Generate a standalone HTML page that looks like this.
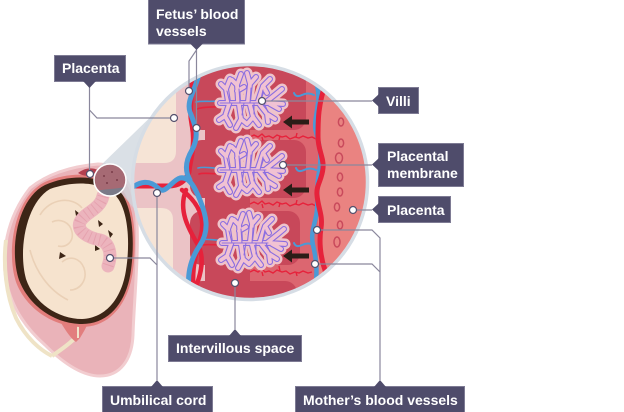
<!DOCTYPE html>
<html><head><meta charset="utf-8"><style>
html,body{margin:0;padding:0;background:#fff;}
svg{display:block;}
text{font-family:"Liberation Sans",Arial,sans-serif;font-weight:bold;font-size:14px;fill:#fff;}
</style></head><body>
<svg width="624" height="412" viewBox="0 0 624 412" xmlns="http://www.w3.org/2000/svg">
<defs>
<clipPath id="cc"><circle cx="250" cy="182" r="116"/></clipPath>
<clipPath id="sc"><circle cx="110" cy="180" r="16"/></clipPath>
<path id="vp" d="M0,0 H48 M8,-1 L6,-14 L10,-24 M6,-14 L1,-19 M18,-2 L17,-18 L21,-29 M17,-18 L12,-23 M17,-12 L24,-16 M28,-2 L30,-19 L27,-30 M30,-19 L36,-26 M38,-2 L43,-17 L50,-24 M43,-17 L47,-10 M46,-1 L56,-9 L62,-14 M48,0 L63,1 M9,1 L5,13 L10,22 M5,13 L-1,17 M19,2 L21,16 L16,25 M21,16 L27,21 M30,2 L33,14 L39,22 M33,14 L28,20 M40,2 L47,11 L55,16 M47,11 L48,19 M50,1 L59,6"/>
<g id="vil" fill="none" stroke-linecap="round" stroke-linejoin="round">
<use href="#vp" stroke="#efc3ca" stroke-width="11"/>
<use href="#vp" stroke="#8a6de0" stroke-width="6"/>
<use href="#vp" stroke="#f1c2d3" stroke-width="3.8"/>
<path d="M0,0 H46 M10,0 L7,-12 M20,0 L19,-14 M30,0 L31,-15 M40,0 L43,-13 M12,0 L8,11 M24,0 L22,12 M34,0 L34,11 M44,0 L48,9" stroke="#8a6de0" stroke-width="1"/>
</g>
</defs>

<!-- Uterus / fetus -->
<path d="M30,188 C50,172 75,166 98,164 C118,164 132,180 136,210 C140,245 134,300 133,335 C132,360 120,376 100,376 C80,376 60,360 45,345 C28,330 12,310 6,280 C2,255 5,220 30,188 Z" fill="#eab3b9" stroke="#f2cdd0" stroke-width="3"/>
<path d="M6,240 C3,265 6,295 16,318 C26,338 40,350 52,356" fill="none" stroke="#efe3c6" stroke-width="4"/>
<path d="M52,356 C62,349 72,342 79,334" fill="none" stroke="#efe3c6" stroke-width="4"/>
<path d="M58,318 C64,328 70,338 76,342 L80,338 C84,331 88,326 89,316 Z" fill="#e27e7e"/>
<path d="M78,320 L78,338" stroke="#f1e4ca" stroke-width="2"/>
<path d="M45,182 C70,171 101,172 120,187 C135,203 137,240 133,270 C129,302 111,327 82,327 C54,327 26,309 16,282 C6,252 14,197 45,182 Z" fill="#e27d7b"/>
<path d="M45,185 C70,174 100,175 118,189 C133,204 135,240 131,270 C127,301 110,324 82,324 C55,324 29,306 19,280 C9,250 17,199 45,185 Z" fill="#3d2516"/>
<path d="M50,189 C76,180 102,182 116,196 C129,211 130,245 126,270 C122,297 107,318 82,319 C58,319 34,303 26,279 C18,250 26,203 50,189 Z" fill="#f6e3ce"/>
<path d="M40,215 C50,198 72,196 82,208 M52,222 C60,218 70,222 72,232 C74,242 66,248 58,246 M62,262 C70,255 80,258 84,268 C88,280 80,290 70,290 M30,250 C35,270 48,290 68,300" fill="none" stroke="#ead0b6" stroke-width="1.6"/>
<path d="M75,210 L80,214 L76,216 Z M98,220 L103,224 L99,227 Z M108,230 L113,234 L110,238 Z M60,252 L66,256 L59,259 Z M95,245 L100,249 L95,251 Z" fill="#3d2516"/>
<path d="M103,196 C100,210 85,212 80,222 C76,232 90,238 100,240 C110,243 112,255 108,266" fill="none" stroke="#ecb4bd" stroke-width="13" stroke-linecap="round"/>
<path d="M103,196 C100,210 85,212 80,222 C76,232 90,238 100,240 C110,243 112,255 108,266" fill="none" stroke="#e39aa8" stroke-width="11" stroke-dasharray="1 4" opacity="0.7"/>
<path d="M78,173 C84,168 92,167 98,170 C94,176 86,178 78,173 Z" fill="#b23f4e"/>

<!-- cone -->
<polygon points="98,168 167,101 250,182 200,288 122,194" fill="#cdd5de" opacity="0.75"/>
<!-- small circle -->
<g clip-path="url(#sc)">
<rect x="90" y="160" width="40" height="40" fill="#a66a74"/>
<path d="M94,192 C104,188 116,190 128,186 L128,200 L94,200 Z" fill="#7a7a88"/>
<circle cx="104" cy="176" r="1" fill="#7a3d48"/><circle cx="112" cy="172" r="1" fill="#7a3d48"/><circle cx="117" cy="180" r="1" fill="#7a3d48"/><circle cx="107" cy="183" r="1" fill="#7a3d48"/>
</g>
<circle cx="110" cy="180" r="16" fill="none" stroke="#fff" stroke-width="1.5"/>

<!-- big circle -->
<g clip-path="url(#cc)">
<rect x="130" y="60" width="245" height="245" fill="#ebc3c6"/>
<path d="M130,60 H176 V151 Q176,163 164,163 H130 Z" fill="#f6e4d6"/>
<path d="M130,305 H173 V220 Q173,208 161,208 H130 Z" fill="#f6e4d6"/>
<rect x="205" y="60" width="170" height="245" fill="#dc6670"/>
<rect x="318" y="60" width="60" height="245" fill="#ea8381"/>
<rect x="190" y="50" width="116" height="80" rx="12" fill="#c8485a"/>
<rect x="190" y="140" width="116" height="58" rx="12" fill="#c8485a"/>
<rect x="190" y="211" width="110" height="54" rx="12" fill="#c8485a"/>
<rect x="190" y="281" width="107" height="40" rx="12" fill="#c8485a"/>
<rect x="205" y="60" width="45" height="245" fill="#c8485a"/>
<g fill="none" stroke="#c94a5c" stroke-width="1.5">
<ellipse cx="341" cy="122" rx="2.6" ry="4"/>
<ellipse cx="341" cy="143" rx="2.6" ry="4"/>
<ellipse cx="339" cy="158" rx="3.5" ry="5"/>
<ellipse cx="340" cy="177" rx="2.6" ry="4"/>
<ellipse cx="340" cy="192" rx="2.6" ry="4"/>
<ellipse cx="337" cy="207" rx="2.6" ry="4"/>
<ellipse cx="340" cy="225" rx="2.6" ry="4"/>
<ellipse cx="337" cy="242" rx="3" ry="5"/>
<ellipse cx="338" cy="100" rx="2.6" ry="4"/>
</g>
<!-- mother capillaries -->
<g fill="none" stroke="#e6223b" stroke-width="1.4">
<path d="M250,137 l4,-2 l4,2 l4,-3 l3,3 l4,-1 l4,2 l4,-3 l5,2 l4,-1 l4,3 l5,-2 l4,1 l4,-2 l5,2 l4,-1 l4,2 M262,137 l1,4 M280,136 l-1,4 M296,137 l1,-4"/>
<path d="M250,204 l4,-2 l4,2 l4,-3 l3,3 l4,-1 l4,2 l4,-3 l5,2 l4,-1 l4,3 l5,-2 l4,1 l4,-2 l5,2 l4,-1 l4,2 M262,204 l1,4 M280,203 l-1,4 M296,204 l1,-4"/>
<path d="M250,272 l4,-2 l4,2 l4,-3 l3,3 l4,-1 l4,2 l4,-3 l5,2 l4,-1 l4,3 l5,-2 l4,1 l4,-2 l5,2 l4,-1 M262,272 l1,4 M280,271 l-1,-5 M296,272 l1,4"/>
</g>
<!-- mother vessels -->
<g fill="none" stroke-linecap="round">
<path d="M314,95 q-6,-3 -12,0 t-8,-2 M316,170 q-6,-3 -12,0 t-8,-2 M314,245 q-6,-3 -12,0 t-8,-2" stroke="#4b9ad6" stroke-width="2"/>
<path d="M315,80 C324,100 312,118 316,132 C320,146 322,158 319,172 C316,188 318,200 317,210 C316,222 310,232 313,245 C316,258 318,270 315,290" stroke="#4b9ad6" stroke-width="4.5"/>
<path d="M326,82 C318,105 318,120 318,137 C318,150 324,158 323,168 C322,180 316,185 317,195 C318,208 323,215 321,228 C319,240 320,256 325,270 C327,278 324,288 322,298" stroke="#e6223b" stroke-width="5"/>
</g>
<!-- fetal vessels -->
<g fill="none" stroke-linecap="round">
<path d="M197,109 C205,106 212,108 222,106 M199,174 C206,172 212,175 222,173 M198,246 C206,243 214,246 224,244" stroke="#e6223b" stroke-width="1.6"/>
<path d="M196,102 C204,100 212,103 222,100 M198,168 C206,166 212,169 222,168 M200,240 C208,238 214,241 224,240" stroke="#4b9ad6" stroke-width="1.6"/>
<path d="M190,72 C194,95 188,105 192,125 C196,145 190,160 189,172 M128,186 H168 Q184,186 189,172" stroke="#e6223b" stroke-width="5"/>
<path d="M182,190 C195,200 206,215 201,235 C196,255 190,270 195,300 M186,190 C178,210 188,228 198,245 C206,260 200,280 190,300" stroke="#e6223b" stroke-width="4.5"/>
<path d="M200,70 C196,90 186,100 190,112 C195,125 200,135 192,150 C186,160 184,170 190,180" stroke="#4b9ad6" stroke-width="5"/>
<path d="M128,191 C140,180 150,180 158,188 C165,196 172,180 180,178 C190,176 196,190 200,200 C206,215 210,230 200,245 C190,260 186,275 190,300" stroke="#4b9ad6" stroke-width="5"/>
</g>
<use href="#vil" x="220" y="103"/>
<use href="#vil" x="220" y="170"/>
<use href="#vil" x="222" y="243"/>
<g fill="#2b1d17">
<path d="M283,122 L292,115.5 V119.5 H309 V124.5 H292 V128.5 Z"/>
<path d="M283,190 L292,183.5 V187.5 H309 V192.5 H292 V196.5 Z"/>
<path d="M283,256 L292,249.5 V253.5 H309 V258.5 H292 V262.5 Z"/>
</g>
</g>
<circle cx="250" cy="182" r="117.5" fill="none" stroke="#d6dde5" stroke-width="3.5"/>

<!-- leaders -->
<g fill="none" stroke="#8a879c" stroke-width="1.2">
<path d="M196.5,44 V128 M196.5,50 L189,61 V91"/>
<path d="M89.5,82 V174 M89.5,110 L97,118 H174"/>
<path d="M157,193 V380 M110,258 H150 L157,265"/>
<path d="M235,283 V329"/>
<path d="M262,101 H372 M283,165 H372 M353,210 H372"/>
<path d="M317,230 H372 L380,238 V380 M315,264 H372 L380,272"/>
</g>
<g fill="#fff" stroke="#55516d" stroke-width="1.2">
<circle cx="189" cy="91" r="3.5"/><circle cx="196.5" cy="128" r="3.5"/>
<circle cx="90" cy="174" r="3.5"/><circle cx="174" cy="118" r="3.5"/>
<circle cx="157" cy="193" r="3.5"/><circle cx="110" cy="258" r="3.5"/>
<circle cx="235" cy="283" r="3.5"/>
<circle cx="262" cy="101" r="3.5"/><circle cx="283" cy="165" r="3.5"/><circle cx="353" cy="210" r="3.5"/>
<circle cx="317" cy="230" r="3.5"/><circle cx="315" cy="264" r="3.5"/>
</g>

<!-- labels -->
<g fill="#4f4c6b" stroke="#7e7b94" stroke-width="1">
<rect x="148.5" y="-1" width="96" height="45"/>
<rect x="54.5" y="55.5" width="71" height="26"/>
<rect x="378.5" y="87.5" width="40" height="26"/>
<rect x="378.5" y="143.5" width="85" height="43"/>
<rect x="378.5" y="196.5" width="72" height="26"/>
<rect x="168.5" y="335.5" width="133" height="26"/>
<rect x="102.5" y="386.5" width="110" height="26"/>
<rect x="295.5" y="386.5" width="169" height="26"/>
</g>
<g fill="#4f4c6b">
<polygon points="190,43.5 203,43.5 196.5,50"/>
<polygon points="83,81 96,81 89.5,88"/>
<polygon points="379,94 379,107 372,100.5"/>
<polygon points="379,158 379,171 372,164.5"/>
<polygon points="379,203 379,216 372,209.5"/>
<polygon points="229,336 241,336 235,329"/>
<polygon points="151,387 163,387 157,380"/>
<polygon points="374,387 386,387 380,380"/>
</g>
<text x="156" y="19">Fetus’ blood</text>
<text x="156" y="36">vessels</text>
<text x="62" y="73">Placenta</text>
<text x="386" y="106">Villi</text>
<text x="387" y="161">Placental</text>
<text x="387" y="178">membrane</text>
<text x="387" y="215">Placenta</text>
<text x="176" y="353">Intervillous space</text>
<text x="110" y="405">Umbilical cord</text>
<text x="303" y="405">Mother’s blood vessels</text>
</svg>
</body></html>
